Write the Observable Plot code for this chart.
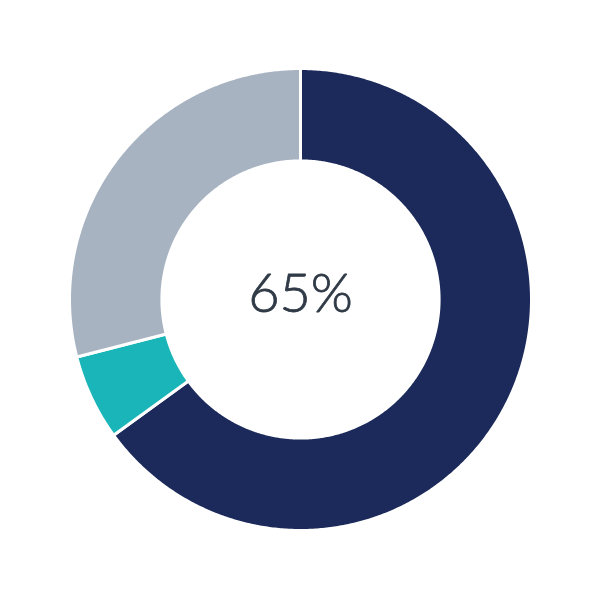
<!DOCTYPE html>
<html>
<head>
<meta charset="utf-8">
<script src="https://cdn.jsdelivr.net/npm/d3@7"></script>
<script src="https://cdn.jsdelivr.net/npm/@observablehq/plot@0.6"></script>
<style>
  html, body { margin: 0; padding: 0; background: #ffffff; }
  #chart { width: 600px; height: 599px; }
</style>
</head>
<body>
<div id="chart"></div>
<script>
const categories = ["A", "B", "C"];
const values = [65, 6, 29];
const colors = ["#1b2a5a", "#1ab5b8", "#a8b3c2"];
const centerLabel = "65%";

const innerRatio = 0.6;
const pie = d3.pie().sort(null).value(d => d.value)(
  categories.map((c, i) => ({category: c, value: values[i]}))
);

// Build polygon vertices (data space, unit radius) for each slice
const pts = [];
for (const p of pie) {
  const n = Math.max(8, Math.ceil((p.endAngle - p.startAngle) * 120));
  const ring = [];
  for (let k = 0; k <= n; k++) {
    const a = p.startAngle + (p.endAngle - p.startAngle) * k / n;
    ring.push([Math.sin(a), Math.cos(a)]);
  }
  for (let k = n; k >= 0; k--) {
    const a = p.startAngle + (p.endAngle - p.startAngle) * k / n;
    ring.push([innerRatio * Math.sin(a), innerRatio * Math.cos(a)]);
  }
  ring.push(ring[0]);
  ring.forEach(([x, y]) => pts.push({category: p.data.category, x, y}));
}

const R = 231;
const W = 600, H = 599;
const cx = 300, cy = 299;

const chart = Plot.plot({
  width: W,
  height: H,
  margin: 0,
  x: {domain: [-cx / R, (W - cx) / R], axis: null},
  y: {domain: [-(H - cy) / R, cy / R], axis: null},
  color: {domain: categories, range: colors},
  marks: [
    Plot.line(pts, {x: "x", y: "y", z: "category", fill: "category", stroke: "white", strokeWidth: 3, curve: "linear"}),
    Plot.text([centerLabel], {x: [0], y: [0], text: d => d, fontSize: 54, fill: "#2f3a46", stroke: "#2f3a46", strokeWidth: 0.8, fontFamily: "Lato", fontWeight: 300, dy: -5})
  ]
});
document.getElementById("chart").appendChild(chart);
</script>
</body>
</html>
